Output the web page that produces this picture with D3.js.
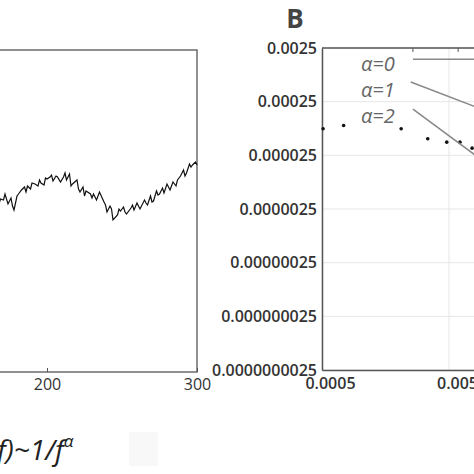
<!DOCTYPE html>
<html><head><meta charset="utf-8">
<script src="https://cdn.jsdelivr.net/npm/d3@7"></script>
<style>body{margin:0;background:#fff}</style></head>
<body><svg id="c" width="474" height="474"></svg>
<script>
// Panel A: time series (x: time index, y: arbitrary units)
const seriesX = [-53,-51,-50,-48,-47,-45,-43,-42,-40,-38,-37,-36,-34,-33,-31,-29,-28,-26,-24,-23,-22,-20,-19,-17,-15,-14,-13,-11,-10,-8,-6,-5,-4,-2,-1,0,2,3,4,6,7,9,11,12,13,15,16,17,20,21,22,24,25,26,29,30,31,33,34,35,38,39,40,42,43,44,47,48,49,51,52,53,56,57,58,60,61,62,65,66,67,69,70,71,73,74,75,77,78,80,82,83,84,86,87,89,91,92,93,95,96,97,99,100];
const seriesY = [167,171,162,168,166,159,164,152,155,166,170,158,165,163,173,172,178,168,174,166,162,176,178,182,185,180,186,183,189,188,186,192,189,187,194,193,195,197,191,196,195,190,195,199,192,198,186,188,192,183,180,185,176,181,178,174,178,172,176,180,170,167,160,166,163,152,157,163,161,165,160,158,164,167,162,169,166,163,172,169,167,176,170,171,181,177,178,184,179,188,182,186,190,186,192,196,202,196,199,208,205,207,210,207];
const axisAX = [200, 300];
// Panel B: power spectrum (log-log)
const freq = [0.00051,0.00074,0.0021,0.0034,0.0048,0.0061,0.0076,0.0093];
const power = [0.000078,0.000090,0.000078,0.000051,0.000044,0.000044,0.000034,0.000022];
const yTicksB = [0.0025,0.00025,0.000025,0.0000025,0.00000025,0.000000025,0.0000000025];
const yTickLabelsB = ["0.0025","0.00025","0.000025","0.0000025","0.00000025","0.000000025","0.0000000025"];
const xTicksB = [0.0005,0.005];
const xTickLabelsB = ["0.0005","0.005"];
const legendLabels = ["α=0","α=1","α=2"];
const legendLines = [[[0.0026,0.00155],[0.0088,0.00155]],[[0.0025,0.00058],[0.0088,0.000185]],[[0.0026,0.000182],[0.0088,0.0000215]]];

const svg = d3.select("#c");
const gray="#333";
const F="'Open Sans', sans-serif";
// Panel A
const xA = d3.scaleLinear().domain([200,300]).range([47,197]);
const yA = d3.scaleLinear().domain([0,322]).range([372,50]);
svg.append("rect").attr("x",-5).attr("y",50).attr("width",202).attr("height",322).attr("fill","none").attr("stroke","#555").attr("stroke-width",1.3);
const axA = svg.append("g").attr("transform","translate(0,372)").call(d3.axisBottom(xA).tickValues(axisAX).tickSize(-4).tickPadding(7));
axA.select(".domain").remove();
axA.selectAll("text").attr("font-family",F).attr("font-size",16).attr("fill",gray);
axA.selectAll("line").attr("stroke","#555");
svg.append("path").datum(seriesX.map((x,i)=>[x+200,seriesY[i]]))
 .attr("d",d3.line().x(d=>xA(d[0])).y(d=>yA(d[1]))).attr("fill","none").attr("stroke","#111").attr("stroke-width",1.2);
svg.append("text").attr("x",-3).attr("y",460).attr("font-family",F).attr("font-style","italic").attr("font-size",28).attr("fill","#222").html('f)~1/f<tspan dy="-13" font-size="17">α</tspan>');
svg.append("rect").attr("x",129).attr("y",432).attr("width",29).attr("height",34).attr("fill","#f8f8f8");

// Panel B
const xB = d3.scaleLog().domain([0.0005,0.05]).range([322,576]);
const yB = d3.scaleLog().domain([0.0000000025,0.0025]).range([370,48]);
svg.append("text").attr("x",295).attr("y",28).attr("text-anchor","middle").attr("font-family",F).attr("font-weight","bold").attr("font-size",26).attr("fill","#444").text("B");
const grid=svg.append("g");
yTicksB.forEach(v=>grid.append("line").attr("x1",322).attr("x2",474).attr("y1",yB(v)).attr("y2",yB(v)).attr("stroke","#e6e6e6"));
xTicksB.forEach(v=>grid.append("line").attr("x1",xB(v)).attr("x2",xB(v)).attr("y1",48).attr("y2",370).attr("stroke","#e6e6e6"));
const ayB = svg.append("g").attr("transform","translate(322,0)").call(d3.axisLeft(yB).tickValues(yTicksB).tickFormat((d,i)=>yTickLabelsB[i]).tickSize(0).tickPadding(5));
ayB.selectAll("text").attr("font-family",F).attr("font-size",16).attr("font-weight",600).attr("fill",gray);
ayB.select(".domain").attr("stroke","#555").attr("stroke-width",1.5);
const axB = svg.append("g").attr("transform","translate(0,370)").call(d3.axisBottom(xB).tickValues(xTicksB).tickFormat((d,i)=>xTickLabelsB[i]).tickSize(0).tickPadding(8));
axB.selectAll("text").attr("font-family",F).attr("font-size",16).attr("font-weight",600).attr("fill",gray).attr("dx",8);
axB.select(".domain").attr("stroke","#555").attr("stroke-width",1.5);
svg.append("line").attr("x1",322).attr("x2",474).attr("y1",48).attr("y2",48).attr("stroke","#555").attr("stroke-width",1.5);
[0.0026,0.0059].forEach(v=>svg.append("line").attr("x1",xB(v)).attr("x2",xB(v)).attr("y1",48).attr("y2",52).attr("stroke","#555"));
svg.selectAll(".dot").data(freq).enter().append("circle").attr("cx",d=>xB(d)).attr("cy",(d,i)=>yB(power[i])).attr("r",1.8).attr("fill","#111");
legendLabels.forEach((t,i)=>{
  svg.append("text").attr("x",361).attr("y",71+i*26).attr("font-family",F).attr("font-style","italic").attr("font-size",20).attr("fill","#666").text(t);
  const l=legendLines[i];
  svg.append("line").attr("x1",xB(l[0][0])).attr("y1",yB(l[0][1])).attr("x2",xB(l[1][0])).attr("y2",yB(l[1][1])).attr("stroke","#888").attr("stroke-width",1.5);
});
</script></body></html>
